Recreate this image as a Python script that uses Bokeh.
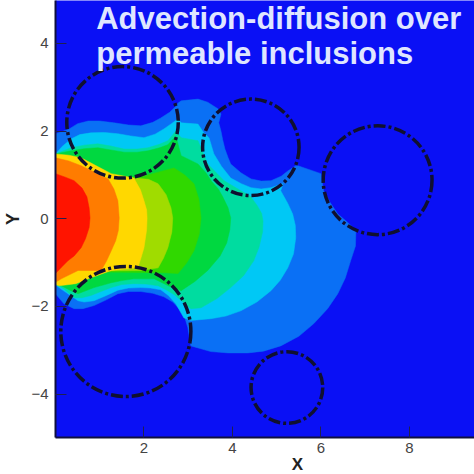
from bokeh.plotting import figure
from bokeh.embed import file_html
from bokeh.resources import INLINE
from bokeh.models import Range1d, FixedTicker, Label
from bokeh.core.properties import value

x_ticks = [2, 4, 6, 8]
y_ticks = [-4, -2, 0, 2, 4]

lb_x = [0,0.15,0.31,0.5,0.74,1.0,1.32,1.65,1.93,2.2,2.38,2.58,2.72,2.77,2.84,3.22,3.44,3.67,3.74,3.69,3.74,3.78,3.83,3.9,3.96,4.19,4.42,4.65,4.87,5.1,5.25,5.43,5.48,6.0,6.06,6.2,6.38,6.6,6.79,6.78,6.67,6.55,6.38,6.15,5.84,5.5,5.09,4.7,4.35,3.9,3.51,3.06,2.99,2.93,2.84,2.65,2.45,2.2,1.93,1.65,1.41,1.15,0.87,0.62,0.42,0.19,0]
lb_y = [1.94,1.99,2.05,2.17,2.23,2.23,2.19,2.14,2.12,2.2,2.30,2.43,2.57,2.64,2.69,2.73,2.66,2.51,2.39,2.19,2.0,1.8,1.59,1.4,1.25,1.05,0.91,0.86,0.87,0.97,1.09,1.21,1.21,1.03,0.64,0.38,0.11,-0.08,-0.27,-0.62,-0.96,-1.35,-1.71,-2.05,-2.39,-2.68,-2.9,-3.02,-3.06,-3.06,-3.03,-2.9,-2.48,-2.28,-2.10,-1.9,-1.78,-1.7,-1.66,-1.66,-1.71,-1.85,-1.98,-2.05,-2.05,-1.94,-1.71]
cy_x = [0,0.15,0.35,0.55,0.80,1.1,1.41,1.7,2.0,2.25,2.45,2.62,2.77,2.84,3.22,3.35,3.47,3.58,3.75,3.96,4.2,4.42,4.65,4.87,5.14,5.09,5.25,5.36,5.42,5.43,5.38,5.25,5.08,4.87,4.55,4.19,3.85,3.51,3.06,2.90,2.72,2.55,2.38,2.15,1.93,1.65,1.41,1.15,0.87,0.65,0.51,0.28,0.08,0]
cy_y = [1.48,1.65,1.82,1.92,1.96,1.97,1.94,1.89,1.85,1.93,2.05,2.17,2.28,2.19,2.16,1.96,1.85,1.48,1.2,0.93,0.8,0.71,0.68,0.71,0.80,0.64,0.35,0.11,-0.15,-0.43,-0.8,-1.12,-1.4,-1.64,-1.9,-2.10,-2.22,-2.28,-2.32,-2.26,-1.94,-1.75,-1.62,-1.58,-1.57,-1.58,-1.63,-1.75,-1.87,-1.9,-1.87,-1.71,-1.57,-1.5]
te_x = [0,0.35,0.65,0.96,1.25,1.55,1.85,2.09,2.35,2.54,2.72,2.84,3.22,3.44,3.81,4.19,4.4,4.56,4.66,4.69,4.68,4.6,4.48,4.25,3.96,3.65,3.29,3.06,2.68,2.5,2.32,2.05,1.77,1.5,1.26,1.0,0.80,0.6,0.42,0.19,0]
te_y = [1.48,1.62,1.68,1.71,1.66,1.59,1.59,1.62,1.7,1.78,2.0,1.85,1.78,1.25,0.87,0.64,0.52,0.3,0.12,-0.05,-0.3,-0.65,-0.96,-1.3,-1.57,-1.82,-2.03,-2.05,-1.73,-1.62,-1.53,-1.49,-1.48,-1.5,-1.57,-1.67,-1.75,-1.8,-1.80,-1.6,-1.5]
gr_x = [0,0.35,0.65,0.96,1.25,1.55,1.85,2.09,2.35,2.54,2.72,2.84,3.22,3.4,3.53,3.68,3.78,3.9,3.96,3.94,3.87,3.72,3.44,3.15,2.84,2.55,2.23,1.77,1.5,1.26,0.87,0.51,0.35,0.13,0]
gr_y = [1.48,1.55,1.6,1.62,1.57,1.52,1.52,1.55,1.62,1.69,1.89,1.44,1.25,1.05,0.85,0.68,0.50,0.25,0.02,-0.25,-0.55,-0.85,-1.18,-1.43,-1.64,-1.53,-1.37,-1.37,-1.41,-1.46,-1.57,-1.71,-1.64,-1.53,-1.5]
bg_x = [0,1.9,2.68,2.92,3.13,3.24,3.29,3.25,3.13,2.97,2.77,2.45,0]
bg_y = [1.0,0.95,1.16,1.0,0.80,0.45,0.02,-0.35,-0.73,-1.0,-1.25,-1.23,-1.2]
yg_x = [0,1.77,2.1,2.32,2.5,2.61,2.65,2.63,2.54,2.44,2.32,1.93,0]
yg_y = [1.0,0.93,0.9,0.80,0.55,0.25,0.02,-0.3,-0.66,-0.9,-1.12,-1.18,-1.2]
ye_x = [0,0.3,0.58,0.9,1.26,1.77,1.92,2.0,2.06,2.07,2.06,2.0,1.93,1.86,1.5,1.26,0.74,0.46,0.08,0]
ye_y = [1.48,1.45,1.39,1.22,1.03,0.93,0.66,0.41,0.2,0.02,-0.25,-0.66,-0.9,-1.12,-1.15,-1.18,-1.37,-1.48,-1.53,-1.5]
or_x = [0,0.3,0.58,0.85,1.19,1.32,1.41,1.44,1.42,1.36,1.26,1.15,1.03,0.51,0.13,0]
or_y = [1.39,1.32,1.21,1.08,0.91,0.68,0.41,0.02,-0.27,-0.5,-0.73,-0.97,-1.18,-1.18,-1.37,-1.45]
re_x = [0,0.22,0.42,0.60,0.71,0.76,0.78,0.76,0.68,0.58,0.42,0.28,0.14,0]
re_y = [1.03,0.95,0.87,0.70,0.5,0.25,0.02,-0.2,-0.45,-0.66,-0.85,-0.96,-1.1,-1.25]

circle_x = [1.515, 4.415, 7.28, 1.59, 5.23]
circle_y = [2.2, 1.63, 0.88, -2.57, -3.85]
circle_r = [1.26, 1.09, 1.23, 1.47, 0.81]

title_lines = ["Advection-diffusion over", "permeable inclusions"]

bands = [
    (lb_x, lb_y, "#0a70f5"), (cy_x, cy_y, "#00c8f5"), (te_x, te_y, "#00dca0"),
    (gr_x, gr_y, "#00d840"), (bg_x, bg_y, "#30d800"), (yg_x, yg_y, "#a0dc00"),
    (ye_x, ye_y, "#ffd800"), (or_x, or_y, "#ff7c00"), (re_x, re_y, "#ff1400"),
]

p = figure(width=474, height=474, output_backend="svg", toolbar_location=None,
           x_range=Range1d(0, 9.47), y_range=Range1d(-4.99, 4.98),
           min_border_left=55, min_border_right=0, min_border_top=0, min_border_bottom=37)
p.grid.visible = False
p.outline_line_color = None
p.background_fill_color = "#0a10f5"
p.border_fill_color = "white"

for xs, ys, c in bands:
    p.patch(xs, ys, fill_color=c, line_color=c, line_width=0.5)

p.circle(circle_x, circle_y, radius=circle_r, fill_color=None, line_color="#101030",
         line_width=3.5, line_dash="12 3 3 3")

for ax, ticks in ((p.xaxis[0], x_ticks), (p.yaxis[0], y_ticks)):
    ax.ticker = FixedTicker(ticks=ticks)
    ax.major_tick_in = 11
    ax.major_tick_out = 0
    ax.minor_tick_line_color = None
    ax.major_tick_line_color = "#202050"
    ax.axis_line_color = "#101040"
    ax.axis_line_width = 2
    ax.major_label_text_color = "#444444"
    ax.major_label_text_font = "Liberation Sans"
    ax.major_label_text_font_size = "15px"
    ax.major_label_standoff = 7
p.xaxis[0].major_label_standoff = 5

p.yaxis[0].axis_label = "Y"
p.yaxis[0].axis_label_text_font = "Liberation Sans"
p.yaxis[0].axis_label_text_font_style = "bold"
p.yaxis[0].axis_label_text_font_size = "18px"
p.yaxis[0].axis_label_text_color = "#222222"
p.yaxis[0].axis_label_standoff = 5

p.text([0.92, 0.92], [4.57, 3.76], text=title_lines, text_color="#dfe6ff",
       text_font=value("Liberation Sans"), text_font_size="31px", text_font_style="bold",
       text_baseline="middle", text_align="left")

p.add_layout(Label(x=242, y=10, x_units="screen", y_units="screen", text="X",
                   text_font="Liberation Sans", text_font_style="bold",
                   text_font_size="17px", text_color="#222222", text_align="center", text_baseline="middle"),
             "below")

open("out.html", "w").write(file_html(p, INLINE))
